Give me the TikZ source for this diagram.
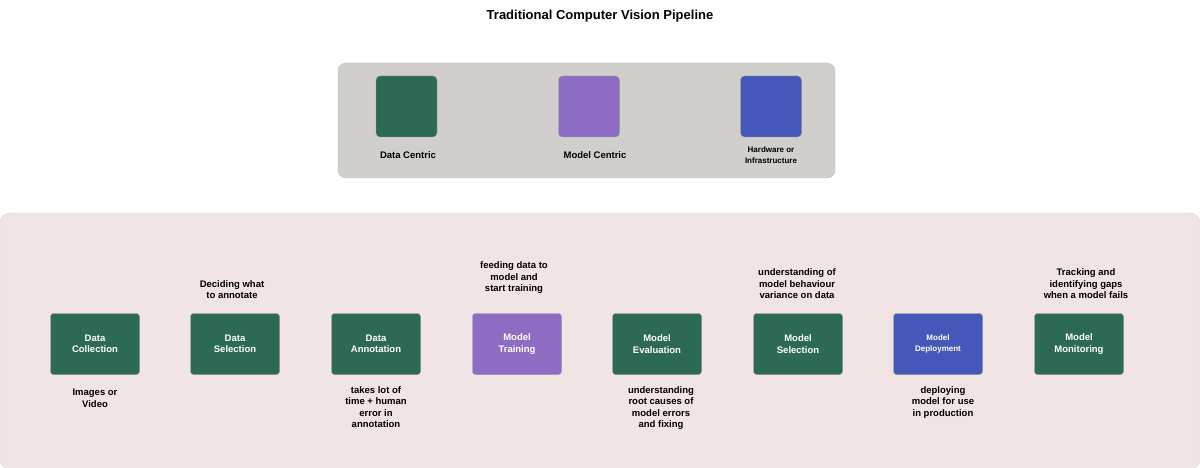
\documentclass[tikz,border=0pt]{standalone}
\usepackage{fontspec}
\setmainfont{Liberation Sans}
\begin{document}
\begin{tikzpicture}[x=1pt,y=-1pt,
  every node/.style={font=\bfseries\fontsize{9.5}{11.5}\selectfont, align=center, inner sep=0pt},
  box/.style={minimum width=89pt, minimum height=61pt, rounded corners=3pt, draw=black!40, line width=0.4pt, text=white},
  sq/.style={minimum width=61pt, minimum height=61pt, rounded corners=4pt, draw=black!40, line width=0.4pt},
  note/.style={text=black}]
\definecolor{gr}{HTML}{2D6A56}
\definecolor{pu}{HTML}{8E6CC4}
\definecolor{bl}{HTML}{4557B8}
\definecolor{lg}{HTML}{D1CFCC}
\definecolor{pk}{HTML}{F1E4E4}
\useasboundingbox (0,0) rectangle (1200,468);
\node (title) at (600,16) {\fontsize{13}{15}\selectfont Traditional Computer Vision Pipeline};
\node[draw=black!25, fill=lg, rounded corners=8pt, minimum width=497pt, minimum height=115pt] (legend) at (586.5,120.5) {};
\node[sq, fill=gr] (l1) at (406.5,106.5) {};
\node[sq, fill=pu] (l2) at (589,106.5) {};
\node[sq, fill=bl] (l3) at (771,106.5) {};
\node (t1) at (408,155) {Data Centric};
\node (t2) at (595,155) {Model Centric};
\node (t3) at (771,155) {\fontsize{8}{11}\selectfont Hardware or\\[-1pt]\fontsize{8}{11}\selectfont Infrastructure};
\node[draw=black!15, fill=pk, rounded corners=10pt, minimum width=1200pt, minimum height=256pt] (panel) at (600,341) {};
\node[box, fill=gr] (b1) at (95,344) {Data\\Collection};
\node[box, fill=gr] (b2) at (235,344) {Data\\Selection};
\node[box, fill=gr] (b3) at (376,344) {Data\\Annotation};
\node[box, fill=pu] (b4) at (517,344) {Model\\Training};
\node[box, fill=gr] (b5) at (657,344) {Model\\Evaluation};
\node[box, fill=gr] (b6) at (798,344) {Model\\Selection};
\node[box, fill=bl] (b7) at (938,344) {\fontsize{8}{11.5}\selectfont Model\\\fontsize{8}{11.5}\selectfont Deployment};
\node[box, fill=gr] (b8) at (1079,344) {Model\\Monitoring};
\node[anchor=south] (a2) at (232,299) {Deciding what\\to annotate};
\node[anchor=south] (a4) at (514,294) {feeding data to\\model and\\start training};
\node[anchor=south] (a6) at (797,299) {understanding of\\model behaviour\\variance on data};
\node[anchor=south] (a8) at (1086,299) {Tracking and\\identifying gaps\\when a model fails};
\node[anchor=north] (u1) at (95,389) {Images or\\Video};
\node[anchor=north] (u3) at (376,386) {takes lot of\\time + human\\error in\\annotation};
\node[anchor=north] (u5) at (661,386) {understanding\\root causes of\\model errors\\and fixing};
\node[anchor=north] (u7) at (943,386) {deploying\\model for use\\in production};
\end{tikzpicture}
\end{document}
